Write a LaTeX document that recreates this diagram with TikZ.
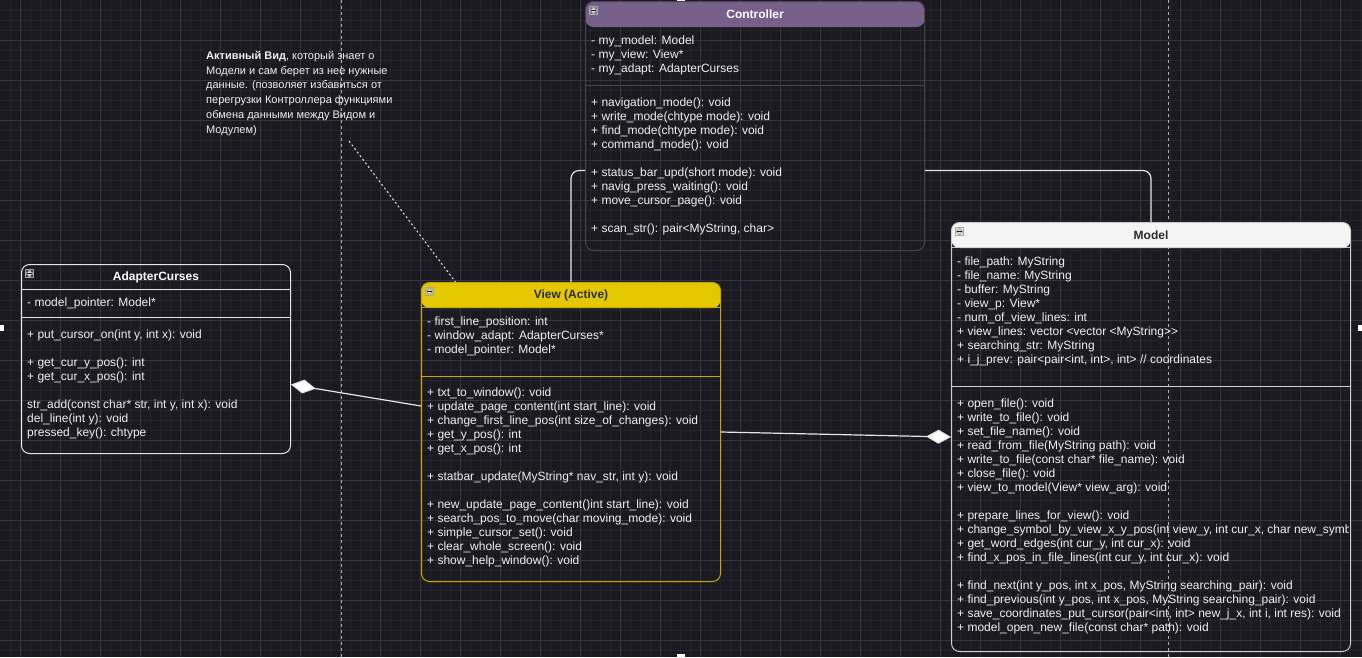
\documentclass[tikz,border=0pt]{standalone}
\usepackage{fontspec}
\setmainfont{Liberation Sans}
\usetikzlibrary{arrows.meta, positioning}
\definecolor{canvas}{HTML}{1C1A21}
\definecolor{gridminor}{HTML}{25232B}
\definecolor{gridmajor}{HTML}{37353D}
\definecolor{ctrlhead}{HTML}{76608A}
\definecolor{ctrlline}{HTML}{4A4356}
\definecolor{viewhead}{HTML}{E3C800}
\definecolor{viewline}{HTML}{C9A800}
\definecolor{modelhead}{HTML}{F5F5F5}
\definecolor{modelline}{HTML}{CFCFCF}
\definecolor{adaptline}{HTML}{E6E6E6}
\definecolor{memtext}{HTML}{F0F0F0}
\definecolor{darktitle}{HTML}{2B2B2B}

\tikzset{
  classbox/.style={draw=#1, line width=1pt, rounded corners=8pt,
    anchor=north west, inner sep=0pt},
  hdr/.style={path picture={
      \fill[#1] (path picture bounding box.north west)
        rectangle ([yshift=-25.5pt]path picture bounding box.north east);
      \filldraw[fill=gray!25, draw=gray!70, line width=0.6pt]
        ([shift={(4pt,-5pt)}]path picture bounding box.north west) rectangle +(8pt,-8pt);
      \draw[gray!20!black, line width=1.2pt]
        ([shift={(5.5pt,-9pt)}]path picture bounding box.north west) -- +(5pt,0pt);
    }},
  classtitle/.style={font=\bfseries\fontsize{12}{14}\selectfont, inner sep=0pt},
  members/.style={font=\fontsize{12}{14}\selectfont, text=memtext, align=left,
    anchor=north west, inner sep=0pt},
  sepline/.style={draw=#1, line width=1pt},
  conn/.style={draw=adaptline, line width=1.2pt},
  guide/.style={draw=gray!60!white, line width=1pt, dash pattern=on 3pt off 3pt},
}

\begin{document}
\begin{tikzpicture}[x=1pt, y=-1pt, >=Latex]
  \useasboundingbox (0,0) rectangle (1362,657);
  \fill[canvas] (0,0) rectangle (1362,657);
  % grid
  \foreach \gx in {10,20,...,1360}
    \draw[gridminor, line width=0.6pt] (\gx,0) -- (\gx,657);
  \foreach \gy in {10,20,...,650}
    \draw[gridminor, line width=0.6pt] (0,\gy) -- (1362,\gy);
  \foreach \gx in {20,60,...,1340}
    \draw[gridmajor, line width=0.8pt] (\gx,0) -- (\gx,657);
  \foreach \gy in {40,80,...,640}
    \draw[gridmajor, line width=0.8pt] (0,\gy) -- (1362,\gy);
  % page guides
  \draw[guide] (341,0) -- (341,657);
  \draw[guide] (1168,0) -- (1168,657);
  \foreach \hx/\hy in {681/0, 681/657, 0/328, 1362/328}
    \fill[white] (\hx-4,\hy-3) rectangle (\hx+4,\hy+3);

  % Controller
  \node[classbox=ctrlline, hdr=ctrlhead, minimum width=339pt, minimum height=249pt] (ctrl) at (585,1) {};
  \node[classtitle, text=white] (ctrl-title) at ([yshift=-13pt]ctrl.north) {Controller};
  \draw[sepline=ctrlline] (585,85) -- (924,85);
  \node[members] (ctrl-attr) at (591,34) {\rule{0pt}{10pt}- my\_model: Model\\
    - my\_view: View*\\
    - my\_adapt: AdapterCurses};
  \node[members] (ctrl-meth) at (591,96) {\rule{0pt}{10pt}+ navigation\_mode(): void\\
    + write\_mode(chtype mode): void\\
    + find\_mode(chtype mode): void\\
    + command\_mode(): void\\[14pt]
    + status\_bar\_upd(short mode): void\\
    + navig\_press\_waiting(): void\\
    + move\_cursor\_page(): void\\[14pt]
    + scan\_str(): pair<MyString, char>};

  % AdapterCurses
  \node[classbox=adaptline, hdr={fill=none}, minimum width=269pt, minimum height=189pt] (adapt) at (21,264) {};
  \node[classtitle, text=white] (adapt-title) at ([yshift=-13pt]adapt.north) {AdapterCurses};
  \draw[sepline=adaptline] (21,289.5) -- (290,289.5);
  \draw[sepline=adaptline] (21,317) -- (290,317);
  \node[members] (adapt-attr) at (27,296) {\rule{0pt}{10pt}- model\_pointer: Model*};
  \node[members] (adapt-meth) at (27,328) {\rule{0pt}{10pt}+ put\_cursor\_on(int y, int x): void\\[14pt]
    + get\_cur\_y\_pos(): int\\
    + get\_cur\_x\_pos(): int\\[14pt]
    str\_add(const char* str, int y, int x): void\\
    del\_line(int y): void\\
    pressed\_key(): chtype};

  % View (Active)
  \node[classbox=viewline, hdr=viewhead, minimum width=299pt, minimum height=299pt] (view) at (421,282) {};
  \node[classtitle, text=darktitle] (view-title) at ([yshift=-13pt]view.north) {View (Active)};
  \draw[sepline=viewline] (421,307.5) -- (720,307.5);
  \draw[sepline=viewline] (421,376) -- (720,376);
  \node[members] (view-attr) at (427,315) {\rule{0pt}{10pt}- first\_line\_position: int\\
    - window\_adapt: AdapterCurses*\\
    - model\_pointer: Model*};
  \node[members] (view-meth) at (427,386) {\rule{0pt}{10pt}+ txt\_to\_window(): void\\
    + update\_page\_content(int start\_line): void\\
    + change\_first\_line\_pos(int size\_of\_changes): void\\
    + get\_y\_pos(): int\\
    + get\_x\_pos(): int\\[14pt]
    + statbar\_update(MyString* nav\_str, int y): void\\[14pt]
    + new\_update\_page\_content()int start\_line): void\\
    + search\_pos\_to\_move(char moving\_mode): void\\
    + simple\_cursor\_set(): void\\
    + clear\_whole\_screen(): void\\
    + show\_help\_window(): void};

  % Model
  \node[classbox=modelline, hdr=modelhead, minimum width=399pt, minimum height=429pt] (model) at (951,222) {};
  \node[classtitle, text=darktitle] (model-title) at ([yshift=-13pt]model.north) {Model};
  \draw[sepline=modelline] (951,247.5) -- (1350,247.5);
  \draw[sepline=modelline] (951,386) -- (1350,386);
  \node[members] (model-attr) at (957,255) {\rule{0pt}{10pt}- file\_path: MyString\\
    - file\_name: MyString\\
    - buffer: MyString\\
    - view\_p: View*\\
    - num\_of\_view\_lines: int\\
    + view\_lines: vector <vector <MyString>{}>\\
    + searching\_str: MyString\\
    + i\_j\_prev: pair<pair<int, int>, int> // coordinates};
  \begin{scope}
    \clip (951,386) rectangle (1348,651);
    \node[members] (model-meth) at (957,397) {\rule{0pt}{10pt}+ open\_file(): void\\
      + write\_to\_file(): void\\
      + set\_file\_name(): void\\
      + read\_from\_file(MyString path): void\\
      + write\_to\_file(const char* file\_name): void\\
      + close\_file(): void\\
      + view\_to\_model(View* view\_arg): void\\[14pt]
      + prepare\_lines\_for\_view(): void\\
      + change\_symbol\_by\_view\_x\_y\_pos(int view\_y, int cur\_x, char new\_symb\\
      + get\_word\_edges(int cur\_y, int cur\_x): void\\
      + find\_x\_pos\_in\_file\_lines(int cur\_y, int cur\_x): void\\[14pt]
      + find\_next(int y\_pos, int x\_pos, MyString searching\_pair): void\\
      + find\_previous(int y\_pos, int x\_pos, MyString searching\_pair): void\\
      + save\_coordinates\_put\_cursor(pair<int, int> new\_j\_x, int i, int res): void\\
      + model\_open\_new\_file(const char* path): void};
  \end{scope}

  % note
  \node[members, font=\fontsize{11}{14.8}\selectfont, text=memtext] (note) at (206,49)
    {\rule{0pt}{10pt}\textbf{Активный Вид}, который знает о\\
     Модели и сам берет из нее нужные\\
     данные. (позволяет избавиться от\\
     перегрузки Контроллера функциями\\
     обмена данными между Видом и\\
     Модулем)};
  \coordinate (note-tail) at (349,141);

  % connectors
  \draw[conn, rounded corners=8pt] (view.north) |- ([yshift=-44.5pt]ctrl.west);
  \draw[conn, rounded corners=8pt] ([yshift=-44.5pt]ctrl.east) -| (model.north);
  \draw[conn, -{Diamond[length=25pt, width=14pt, fill=white]}] (view.east) -- (model.west);
  \draw[conn, -{Diamond[length=25pt, width=14pt, fill=white]}] ([yshift=26pt]view.west) -- ([yshift=-25.5pt]adapt.east);
  \draw[draw=adaptline, line width=1pt, dash pattern=on 2pt off 2.5pt] (note-tail) -- ([xshift=-115.5pt]view.north);
\end{tikzpicture}
\end{document}
